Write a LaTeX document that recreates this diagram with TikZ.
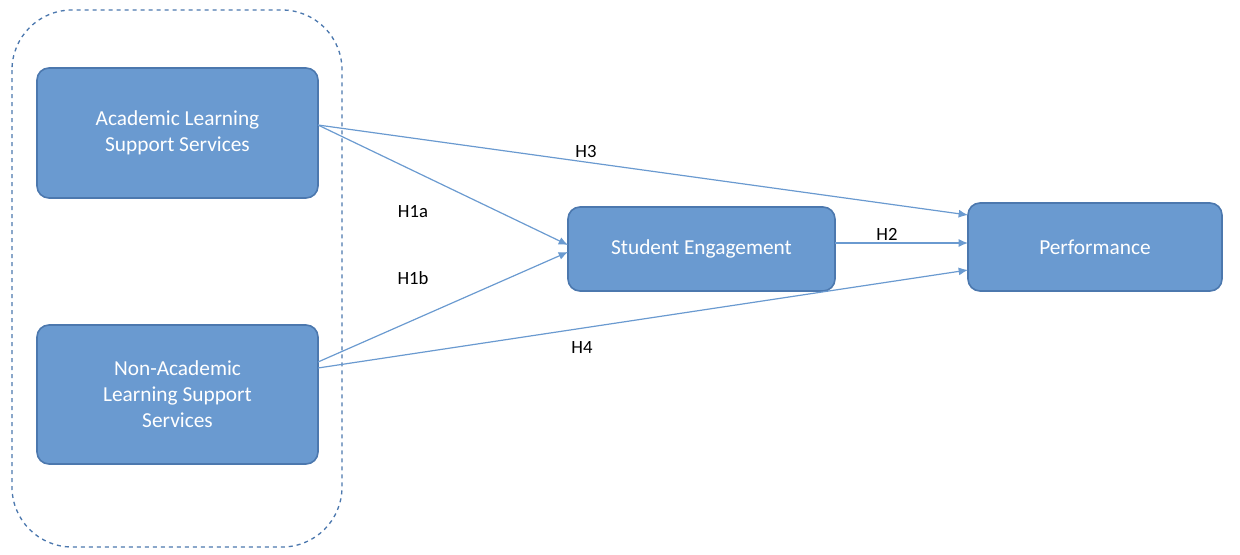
\documentclass[tikz,border=0pt]{standalone}
\usepackage{fontspec}
\setmainfont{Carlito}
\begin{document}
\begin{tikzpicture}[x=0.75pt,y=-0.75pt,
  box/.style={draw=boxb,fill=boxf,rounded corners=9pt,line width=1.2pt,text=white,font=\fontsize{16}{19.5}\selectfont,align=center,inner sep=0pt},
  arr/.style={draw=arrc,line width=0.9pt,-{Latex[length=7pt,width=6pt]}},
  lab/.style={font=\fontsize{14}{16}\selectfont,text=black}]
\usetikzlibrary{arrows.meta}
\definecolor{boxf}{HTML}{6A9AD0}
\definecolor{boxb}{HTML}{4C78AE}
\definecolor{arrc}{HTML}{6A9AD0}
\useasboundingbox (0,0) rectangle (1240,554);
\draw[boxb,dashed,line width=1pt,rounded corners=45pt] (12,10) rectangle (342,547);
\node[box,minimum width=210.75pt,minimum height=97.5pt] (A) at (177.5,133) {Academic Learning\\Support Services};
\node[box,minimum width=210.75pt,minimum height=104.25pt] (N) at (177.5,394.5) {Non-Academic\\Learning Support\\Services};
\node[box,minimum width=200.25pt,minimum height=63pt] (S) at (701.5,249) {Student Engagement};
\node[box,minimum width=190.5pt,minimum height=66pt] (P) at (1095,247) {Performance};
\coordinate (a1) at (318,125);
\coordinate (n1) at (318,362);
\coordinate (n2) at (318,368);
\coordinate (s1) at (568,245);
\coordinate (s2) at (568,252);
\coordinate (p1) at (968,215);
\coordinate (p2) at (968,243);
\coordinate (p3) at (968,270);
\coordinate (se) at (835,243);
\draw[arr] (a1) -- (s1);
\draw[arr] (a1) -- (p1);
\draw[arr] (n1) -- (s2);
\draw[arr] (n2) -- (p3);
\draw[arr] (se) -- (p2);
\node[lab] (h3) at (586,152) {H3};
\node[lab] (h1a) at (413,212) {H1a};
\node[lab] (h1b) at (413,278) {H1b};
\node[lab] (h2) at (887,234) {H2};
\node[lab] (h4) at (582,348) {H4};
\end{tikzpicture}
\end{document}
